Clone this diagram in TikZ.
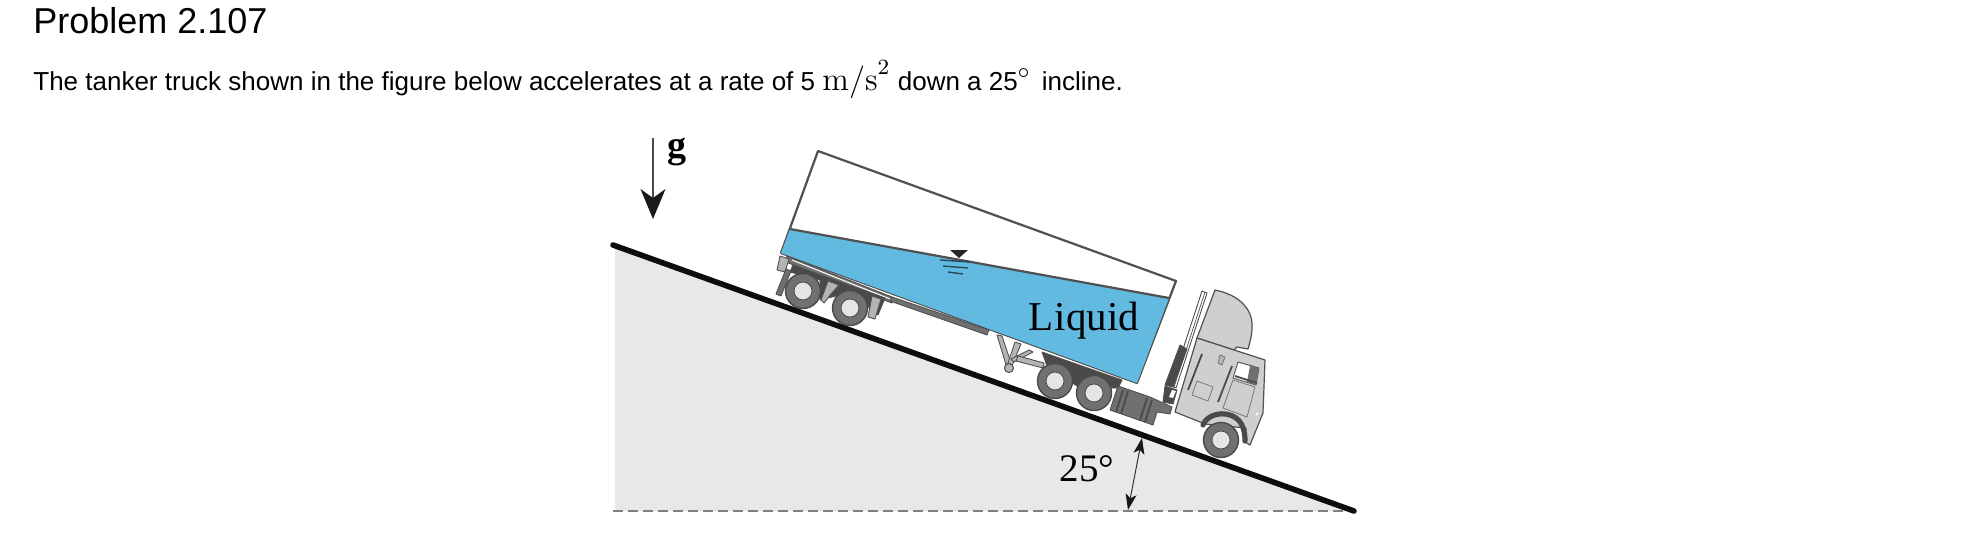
\documentclass[tikz,border=0pt]{standalone}
\usepackage[no-math]{fontspec}
\usepackage{graphicx}
\setmainfont{Liberation Sans}
\newfontfamily\figserif{Liberation Serif}
\usetikzlibrary{arrows.meta}
\definecolor{liquidblue}{HTML}{62BAE0}
\definecolor{groundgrey}{HTML}{E8E8E8}
\definecolor{cabgrey}{HTML}{CFCFCF}
\definecolor{darkgrey}{HTML}{4A4A4A}
\definecolor{midgrey}{HTML}{707070}
\definecolor{lightgrey}{HTML}{B4B4B4}
\definecolor{outlinegrey}{HTML}{505050}
\tikzset{
  pagetext/.style={anchor=base west,inner sep=0pt,text=black},
  figlabel/.style={anchor=base,inner sep=0pt,text=black,font=\figserif},
  tank/.style={draw=outlinegrey,line width=1.1pt,line join=round},
  ramp/.style={draw=black!95,line width=2.8pt,line cap=round},
  tyre/.style={circle,draw=darkgrey,line width=0.7pt,fill=midgrey,inner sep=0pt,minimum size=17.5pt},
  hub/.style={circle,draw=darkgrey,line width=0.4pt,fill=black!10,inner sep=0pt,minimum size=9pt},
  part/.style={draw=outlinegrey,line width=0.45pt,line join=round},
  darkpart/.style={part,fill=darkgrey},
  midpart/.style={part,fill=midgrey},
  lightpart/.style={part,fill=lightgrey},
  cabpart/.style={draw=outlinegrey,line width=0.6pt,fill=cabgrey,line join=round},
  detail/.style={draw=darkgrey,line width=0.9pt},
  thinline/.style={draw=midgrey,line width=0.35pt},
  ripple/.style={draw=black!60!liquidblue,line width=0.7pt},
}
\newcommand{\mathbig}[1]{\scalebox{1.36}{\fontsize{12}{14}\selectfont $#1$}}
\begin{document}
\begin{tikzpicture}[x=0.5pt,y=-0.5pt]
\useasboundingbox (0,0) rectangle (1978,552);
\fill[white] (0,0) rectangle (1978,552);
% page text
\node[pagetext] (title) at (33,33) {\fontsize{18}{22}\selectfont Problem 2.107};
\node[pagetext] (body) at (33,90) {\fontsize{13}{16}\selectfont The tanker truck shown in the figure below accelerates at a rate of 5 \mathbig{\mathrm{m/s}^2} down a 25\mathbig{^\circ}\ \kern2pt incline.};
% ground
\fill[groundgrey] (615,247) -- (1354,511) -- (615,511) -- cycle;
\coordinate (dashL) at (613,510.5);
\coordinate (dashR) at (1354,510.5);
\draw[draw=black!50,line width=1pt,dash pattern=on 5pt off 2.5pt] (dashL) -- (dashR);
\coordinate (rampT) at (613,245);
\coordinate (rampB) at (1354,511);
\draw[ramp] (rampT) -- (rampB);
% gravity arrow
\coordinate (gT) at (653,138);
\coordinate (gB) at (653,219);
\draw[draw=black!70,line width=0.8pt,-{Stealth[length=15pt,width=12.5pt,inset=4.5pt,color=black!90]}] (gT) -- (gB);
\node[figlabel] (glabel) at (677,157) {\fontsize{19}{22}\selectfont\bfseries g};
% trailer frame
\draw[midpart,line width=0.5pt] (787,256) -- (892,297) -- (892,303) -- (786,262) -- cycle;
\draw[midpart] (892,297) -- (989,330) -- (987,335) -- (890,301) -- cycle;
\draw[draw=white,line width=0.5pt] (792,260) -- (890,299);
% rear dark wheel well and parts
\draw[darkpart] (793,265) -- (885,298) -- (878,315) -- (855,296) -- (836,296) -- (820,300) -- (820,280) -- (790,272) -- cycle;
\draw[lightpart] (780,256) -- (789,259) -- (785,272) -- (777,270) -- cycle;
\draw[midpart] (786,269) -- (791,271) -- (781,296) -- (776,294) -- cycle;
\draw[lightpart] (828,281) -- (839,285) -- (831,294) -- (824,303) -- (821,300) -- cycle;
\draw[lightpart] (872,296) -- (881,299) -- (875,319) -- (868,317) -- cycle;
% tank and liquid
\draw[tank,fill=white] (781,253) -- (818,151) -- (1176,281) -- (1137,383) -- cycle;
\fill[liquidblue] (790,229) -- (1169,298) -- (1137,383) -- (781,253) -- cycle;
\draw[tank] (790,229) -- (1169,298);
% free-surface symbol
\fill[black!85] (950,250) -- (968,250) -- (959,258) -- cycle;
\draw[ripple] (940,260) -- (970,262);
\draw[ripple] (943,266) -- (968,268);
\draw[ripple] (948,272) -- (963,274);
\node[figlabel] (liquidlabel) at (1083.5,330) {\fontsize{20.5}{24}\selectfont L\kern0.8pt iquid};
% landing gear
\draw[lightpart] (997,335) -- (1002,336) -- (1012,366) -- (1007,368) -- cycle;
\draw[lightpart] (1015,342) -- (1021,344) -- (1011,368) -- (1007,366) -- cycle;
\draw[lightpart] (1029,350) -- (1033,352) -- (1014,362) -- (1011,359) -- cycle;
\draw[lightpart] (1018,356) -- (1044,363) -- (1043,368) -- (1016,361) -- cycle;
\node[circle,draw=darkgrey,line width=0.5pt,fill=lightgrey,inner sep=0pt,minimum size=4.5pt] (foot) at (1009,368) {};
% front trailer dark underbody
\draw[darkpart] (1042,352) -- (1122,380) -- (1118,388) -- (1080,388) -- (1047,366) -- cycle;
% tractor chassis
\draw[midpart] (1118,386) -- (1150,397) -- (1172,407) -- (1170,414) -- (1157,412) -- (1153,425) -- (1110,410) -- cycle;
\draw[detail] (1123,390) -- (1116,412);
\draw[detail] (1128,391) -- (1121,414);
\draw[detail] (1147,398) -- (1140,420);
\draw[detail] (1152,400) -- (1145,422);
% exhaust stack
\draw[part,fill=white] (1202,291) -- (1207,293) -- (1176,388) -- (1171,386) -- cycle;
\draw[draw=outlinegrey,line width=0.35pt] (1205,292) -- (1174,387);
\draw[darkpart] (1180,345) -- (1187,349) -- (1173,387) -- (1165,385) -- cycle;
\draw[darkpart] (1165,386) -- (1177,390) -- (1173,404) -- (1163,402) -- cycle;
\fill[white] (1172,390) -- (1176,391) -- (1173,398) -- (1169,397) -- cycle;
% cab
\draw[cabpart] (1215,290) .. controls (1240,295) and (1253,310) .. (1252,327) .. controls (1252,335) and (1250,342) .. (1248,349) -- (1237,347) -- (1234,350) -- (1197,338) -- cycle;
\draw[cabpart] (1197,338) -- (1265,360) -- (1263,413) -- (1250,445) -- (1245,442) -- (1246,428) -- (1205,424) -- (1175,412) -- cycle;
% wheel arch
\draw[draw=darkgrey,line width=2.6pt,line cap=round] (1203,425) .. controls (1207,414) and (1225,410) .. (1236,418) .. controls (1243,423) and (1245,432) .. (1245,441);
% cab details
\draw[detail] (1202,354) -- (1188,390);
\draw[detail] (1232,366) -- (1218,402);
\draw[thinline,fill=lightgrey] (1220,355) -- (1225,357) -- (1222,365) -- (1218,363) -- cycle;
\draw[thinline] (1197,381) -- (1213,387) -- (1208,401) -- (1192,395) -- cycle;
\draw[thinline] (1233,380) -- (1255,387) -- (1247,417) -- (1223,408) -- cycle;
\draw[part,fill=white] (1238,362) -- (1259,368) -- (1256,385) -- (1233,378) -- cycle;
\fill[midgrey] (1250,366) -- (1259,368) -- (1256,385) -- (1247,382) -- cycle;
\draw[detail] (1235,376) -- (1257,383);
\fill[white] (1257,414) circle [radius=1.5];
% wheels
\node[tyre] (w1) at (803,291) {};
\node[hub] at (w1) {};
\node[tyre] (w2) at (850,308) {};
\node[hub] at (w2) {};
\node[tyre] (w3) at (1055,381) {};
\node[hub] at (w3) {};
\node[tyre] (w4) at (1094,393) {};
\node[hub] at (w4) {};
\node[tyre] (w5) at (1221,440) {};
\node[hub] at (w5) {};
% angle dimension
\coordinate (angT) at (1142,438);
\coordinate (angB) at (1128,510);
\draw[draw=black!80,line width=0.5pt,{Stealth[length=8pt,width=5.5pt,inset=2pt,color=black!90]}-{Stealth[length=8pt,width=5.5pt,inset=2pt,color=black!90]}] (angT) -- (angB);
\node[figlabel] (anglelabel) at (1087,481) {\fontsize{19.5}{22}\selectfont 25°};
\end{tikzpicture}
\end{document}
